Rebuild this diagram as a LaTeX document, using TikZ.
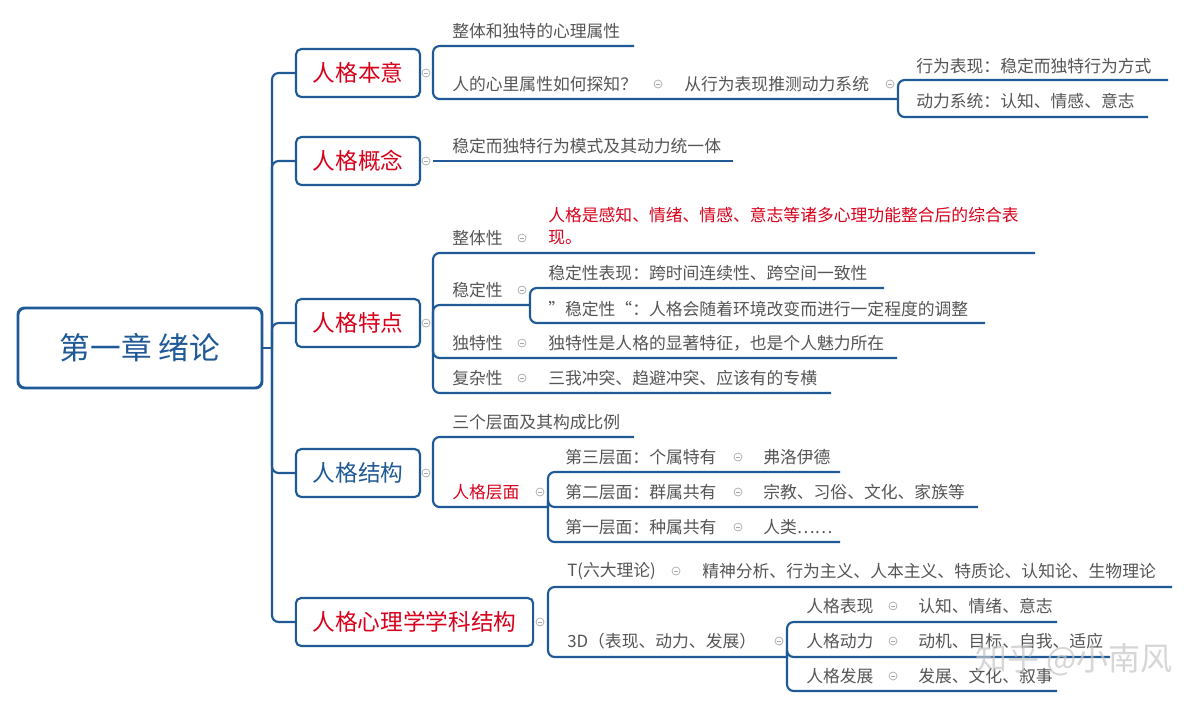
\documentclass[tikz,border=0pt]{standalone}
\usepackage{fontspec}
\setmainfont{Noto Sans CJK SC}
\definecolor{ln}{HTML}{1F5A96}
\definecolor{rd}{HTML}{D9001B}
\definecolor{tx}{HTML}{555555}
\begin{document}
\begin{tikzpicture}[x=0.75pt,y=-0.75pt,
  line/.style={ln,line width=1.6pt},
  br/.style={ln,line width=1.6pt,rounded corners=5pt},
  topic/.style={draw=ln,line width=1.6pt,rounded corners=4pt,font=\fontsize{17}{20}\selectfont,inner sep=0pt,minimum height=36pt},
  sub/.style={anchor=west,inner sep=0pt,text=tx,font=\fontsize{12.6}{14}\selectfont},
  ic/.style={circle,draw=gray!70,line width=0.5pt,minimum size=6pt,inner sep=0pt,path picture={\draw[gray!70,line width=0.5pt](path picture bounding box.west)++(1.5pt,0)--++(3pt,0);}}]
\useasboundingbox (0,0) rectangle (1190,708);
\fill[white] (0,0) rectangle (1190,708);
% root
\node[draw=ln,line width=2.2pt,rounded corners=5pt,minimum width=183pt,minimum height=60pt,text=ln,font=\fontsize{23}{26}\selectfont] (root) at (140,348) {第一章 绪论};
\node[topic,minimum width=93pt,text=rd] (t1) at (358,73) {人格本意};
\node[topic,minimum width=93pt,text=rd] (t2) at (358,161) {人格概念};
\node[topic,minimum width=93pt,text=rd] (t3) at (358,323) {人格特点};
\node[topic,minimum width=93pt,text=ln] (t4) at (358,473) {人格结构};
\node[topic,minimum width=178pt,text=rd] (t5) at (414.5,622) {人格心理学学科结构};
\coordinate (tr) at (272,348);
\draw[line] (root.east) -- (tr);
\foreach \t in {t1,t2,t3,t4,t5}{\draw[br] (tr) |- (\t.west);}
% icons next to topics
\node[ic] (i1) at (426,73) {};
\node[ic] (i2) at (426,161) {};
\node[ic] (i3) at (426,323) {};
\node[ic] (i4) at (426,473) {};
\node[ic] (i5) at (540,622) {};
% --- 人格本意
\coordinate (b1) at (433,73);
\draw[br] (b1) |- (634,46);
\draw[br] (b1) |- (898,99);
\node[sub] (a1) at (452,31) {整体和独特的心理属性};
\node[sub] (a2) at (452,84) {人的心里属性如何探知？};
\node[ic] at (658,84) {};
\node[sub] (a3) at (684,84) {从行为表现推测动力系统};
\node[ic] at (890,84) {};
\coordinate (b1b) at (898,99);
\draw[br] (b1b) |- (1168,80);
\draw[br] (b1b) |- (1148,117);
\node[sub] (a4) at (916,66) {行为表现：稳定而独特行为方式};
\node[sub] (a5) at (916,101) {动力系统：认知、情感、意志};
% --- 人格概念
\draw[line] (433,161) -- (733,161);
\node[sub] (c1) at (452,146) {稳定而独特行为模式及其动力统一体};
% --- 人格特点
\coordinate (b3) at (433,323);
\draw[br] (b3) |- (1035,253);
\draw[br] (b3) |- (530,305);
\draw[br] (b3) |- (897,358);
\draw[br] (b3) |- (831,393);
\node[sub] (d1) at (452,238) {整体性};
\node[ic] at (522,238) {};
\node[sub,text=rd] (d1a) at (548,215) {人格是感知、情绪、情感、意志等诸多心理功能整合后的综合表};
\node[sub,text=rd] (d1b) at (548,238) {现。};
\node[sub] (d2) at (452,290) {稳定性};
\node[ic] at (522,290) {};
\coordinate (b3b) at (530,305);
\draw[br] (b3b) |- (884,288);
\draw[br] (b3b) |- (985,323);
\node[sub] (d2a) at (548,273) {稳定性表现：跨时间连续性、跨空间一致性};
\node[sub] (d2b) at (548,309) {”稳定性“：人格会随着环境改变而进行一定程度的调整};
\node[sub] (d3) at (452,343) {独特性};
\node[ic] at (522,343) {};
\node[sub] (d3a) at (548,343) {独特性是人格的显著特征，也是个人魅力所在};
\node[sub] (d4) at (452,378) {复杂性};
\node[ic] at (522,378) {};
\node[sub] (d4a) at (548,378) {三我冲突、趋避冲突、应该有的专横};
% --- 人格结构
\coordinate (b4) at (433,473);
\draw[br] (b4) |- (634,437);
\draw[br] (b4) |- (548,507);
\node[sub] (e1) at (452,422) {三个层面及其构成比例};
\node[sub,text=rd] (e2) at (452,492) {人格层面};
\node[ic] at (540,492) {};
\coordinate (b4b) at (548,507);
\draw[br] (b4b) |- (840,472);
\draw[br] (b4b) |- (978,507);
\draw[br] (b4b) |- (840,542);
\node[sub] (e3) at (565,457) {第三层面：个属特有};
\node[ic] at (738,457) {};
\node[sub] (e3a) at (763,457) {弗洛伊德};
\node[sub] (e4) at (565,492) {第二层面：群属共有};
\node[ic] at (738,492) {};
\node[sub] (e4a) at (763,492) {宗教、习俗、文化、家族等};
\node[sub] (e5) at (565,527) {第一层面：种属共有};
\node[ic] at (738,527) {};
\node[sub] (e5a) at (763,527) {人类……};
% --- 学科结构
\coordinate (b5) at (548,622);
\draw[br] (b5) |- (1172,587);
\draw[br] (b5) |- (787,657);
\node[sub] (f1) at (567,571) {T(六大理论)};
\node[ic] at (676,571) {};
\node[sub] (f1a) at (702,571) {精神分析、行为主义、人本主义、特质论、认知论、生物理论};
\node[sub] (f2) at (567,641) {3D（表现、动力、发展）};
\node[ic] at (779,641) {};
\coordinate (b5b) at (787,657);
\draw[br] (b5b) |- (1057,622);
\draw[br] (b5b) |- (1110,657);
\draw[br] (b5b) |- (1057,691);
\node[sub] (g1) at (806,606) {人格表现};
\node[ic] at (893,606) {};
\node[sub] (g1a) at (918,606) {认知、情绪、意志};
\node[sub] (g2) at (806,641) {人格动力};
\node[ic] at (893,641) {};
\node[sub] (g2a) at (918,641) {动机、目标、自我、适应};
\node[sub] (g3) at (806,676) {人格发展};
\node[ic] at (893,676) {};
\node[sub] (g3a) at (918,676) {发展、文化、叙事};
% watermark
\node[anchor=west,inner sep=0pt,text=gray!45,opacity=0.7,font=\fontsize{24}{28}\selectfont] (wm) at (975,660) {知乎 @小南风};
\end{tikzpicture}
\end{document}
